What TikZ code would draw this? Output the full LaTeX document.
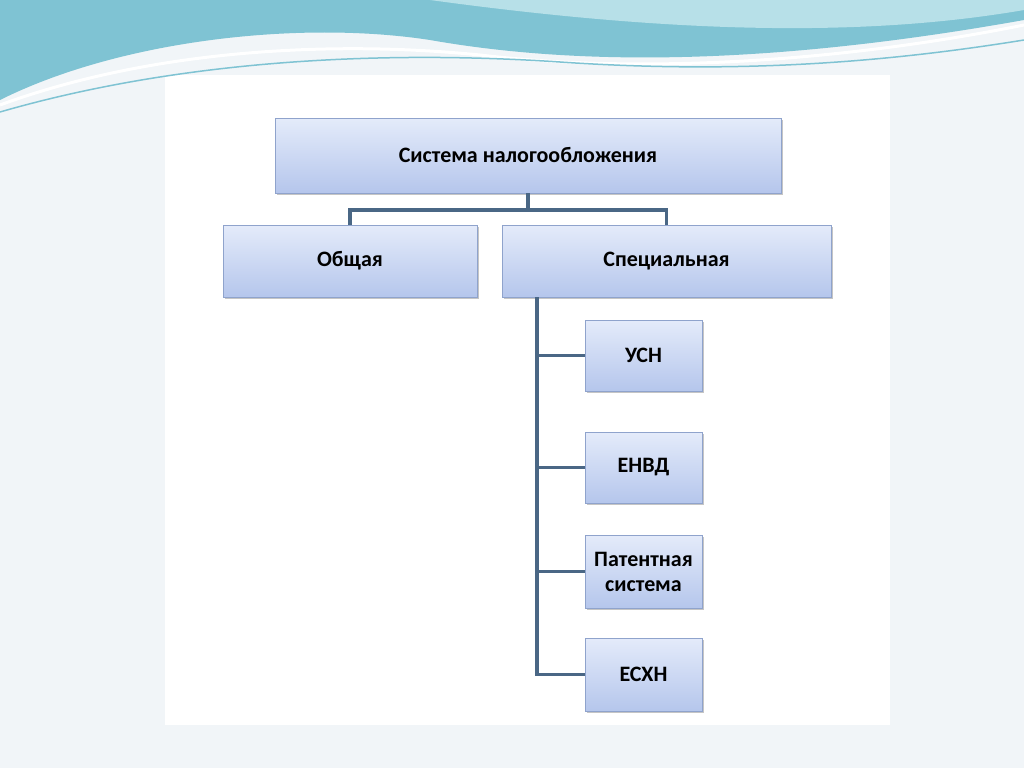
\documentclass[tikz,border=0pt]{standalone}
\usepackage{fontspec}
\setmainfont{Carlito}
\usetikzlibrary{shadows}
\definecolor{bgc}{HTML}{F1F5F8}
\definecolor{linec}{HTML}{4A6785}
\definecolor{boxtop}{HTML}{E4EBFA}
\definecolor{boxbot}{HTML}{B5C6EC}
\definecolor{boxdraw}{HTML}{8FA3CC}
\definecolor{wave1}{HTML}{7FC3D3}
\definecolor{wave2}{HTML}{B7E0E8}
\tikzset{
  box/.style={draw=boxdraw, line width=0.8pt, top color=boxtop, bottom color=boxbot,
    drop shadow={shadow xshift=2pt,shadow yshift=-2pt,fill=black!45}, font=\bfseries\fontsize{22}{25}\selectfont, align=center, inner sep=0pt},
  conn/.style={draw=linec, line width=3.5pt}
}
\begin{document}
\begin{tikzpicture}[x=1pt,y=-1pt]
\useasboundingbox (0,0) rectangle (1024,768);
\fill[bgc] (0,0) rectangle (1024,768);
\fill[white] (165,75) rectangle (890,725);
% waves
\fill[wave1] (0,0) -- (1024,0) -- (1024,20) .. controls (800,60) and (600,70) .. (430,40) .. controls (300,20) and (120,40) .. (0,100) -- cycle;
\fill[wave2] (430,0) -- (1024,0) -- (1024,10) .. controls (850,40) and (650,30) .. (430,0) -- cycle;
\draw[white, line width=3pt] (0,105) .. controls (150,50) and (330,40) .. (480,55) .. controls (650,75) and (850,60) .. (1024,25);
\draw[wave1, line width=1.5pt] (0,112) .. controls (180,60) and (380,50) .. (560,62) .. controls (750,75) and (900,60) .. (1024,40);
% boxes
\node[box, minimum width=506pt, minimum height=75pt] (top) at (528,155.5) {Система налогообложения};
\node[box, minimum width=254pt, minimum height=72pt] (ob) at (350,261) {Общая};
\node[box, minimum width=329pt, minimum height=72pt] (sp) at (666.5,261) {Специальная};
\node[box, minimum width=117pt, minimum height=71pt] (usn) at (643.5,355.5) {УСН};
\node[box, minimum width=117pt, minimum height=71pt] (envd) at (643.5,467.5) {ЕНВД};
\node[box, minimum width=117pt, minimum height=73pt] (pat) at (643.5,571.5) {Патентная\\система};
\node[box, minimum width=117pt, minimum height=73pt] (esh) at (643.5,674.5) {ЕСХН};
% connectors
\coordinate (j) at (528,210);
\draw[conn] (top.south) -- (j);
\draw[conn] (ob.north) -- (ob.north |- j) -- (sp.north |- j) -- (sp.north);
\coordinate (v) at (537,297);
\draw[conn] (v) -- (537,674.5) -- (esh.west);
\draw[conn] (537,355.5) -- (usn.west);
\draw[conn] (537,467.5) -- (envd.west);
\draw[conn] (537,571.5) -- (pat.west);
\end{tikzpicture}
\end{document}
